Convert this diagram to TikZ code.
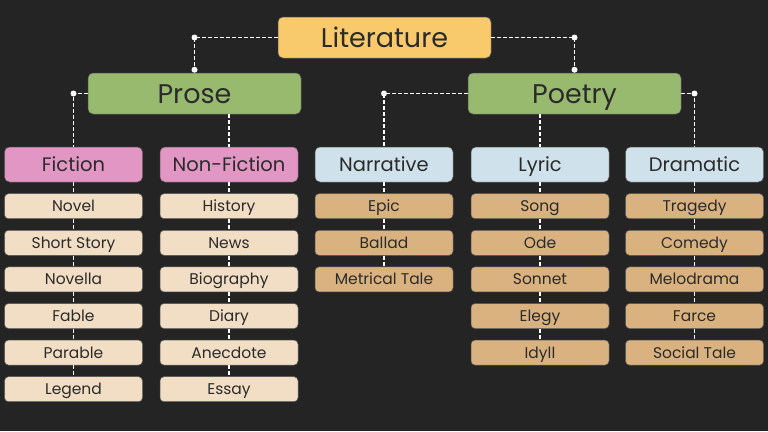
\documentclass[tikz,border=0pt]{standalone}
\usepackage{fontspec}
\setmainfont{Poppins}
\usetikzlibrary{positioning}

\definecolor{board}{HTML}{242424}
\definecolor{ink}{HTML}{2B2B2B}
\definecolor{gold}{HTML}{F9CA6B}
\definecolor{moss}{HTML}{98BA6F}
\definecolor{rose}{HTML}{E296C4}
\definecolor{sky}{HTML}{CFE1EB}
\definecolor{cream}{HTML}{F2DEC4}
\definecolor{tan}{HTML}{D9B27F}

\begin{document}
\begin{tikzpicture}[x=1pt, y=-1pt,
		box/.style={rounded corners=5pt, draw=black!65, line width=0.5pt, text=ink, inner sep=0pt, text depth=0pt},
		root/.style={box, fill=gold, minimum width=213pt, minimum height=41pt, text height=19pt,
			font=\fontsize{27}{27}\selectfont},
		genre/.style={box, fill=moss, minimum width=213pt, minimum height=41pt, text height=19pt,
			font=\fontsize{27}{27}\selectfont},
		kind/.style={box, minimum width=138pt, minimum height=35pt, text height=13.7pt,
			font=\fontsize{19.5}{19.5}\selectfont},
		item/.style={box, rounded corners=4pt, minimum width=138pt, minimum height=25pt, text height=10.9pt,
			font=\fontsize{15.5}{15.5}\selectfont},
		link/.style={white, dash pattern=on 4pt off 2pt, line width=1.3pt},
		dot/.style={white}]
	% chalkboard
	\fill[board] (0,0) rectangle (768,431);

	% top levels
	\node[root] (lit) at (384.5,37.5) {Literature};
	\node[genre] (prose) at (194.5,93.5) {Prose};
	\node[genre] (poetry) at (574.5,93.5) {Poetry};

	% kinds
	\node[kind, fill=rose] (fic) at (73.5,164.5) {Fiction};
	\node[kind, fill=rose] (non) at (229,164.5) {Non-Fiction};
	\node[kind, fill=sky] (nar) at (384,164.5) {Narrative};
	\node[kind, fill=sky] (lyr) at (540,164.5) {Lyric};
	\node[kind, fill=sky] (dra) at (694.5,164.5) {Dramatic};

	% items below each kind
	\foreach \t [count=\i] in {Novel, Short Story, Novella, Fable, Parable, Legend} {
		\node[item, fill=cream] (fic\i) at (73.5,169.6+\i*36.6) {\t};
	};
	\foreach \t [count=\i] in {History, News, Biography, Diary, Anecdote, Essay} {
		\node[item, fill=cream] (non\i) at (229,169.6+\i*36.6) {\t};
	};
	\foreach \t [count=\i] in {Epic, Ballad, Metrical Tale} {
		\node[item, fill=tan] (nar\i) at (384,169.6+\i*36.6) {\t};
	};
	\foreach \t [count=\i] in {Song, Ode, Sonnet, Elegy, Idyll} {
		\node[item, fill=tan] (lyr\i) at (540,169.6+\i*36.6) {\t};
	};
	\foreach \t [count=\i] in {Tragedy, Comedy, Melodrama, Farce, Social Tale} {
		\node[item, fill=tan] (dra\i) at (694.5,169.6+\i*36.6) {\t};
	};

	% connectors
	\draw[link] (lit.west) -| ([yshift=3pt]prose.north);
	\draw[link] (lit.east) -| ([yshift=3pt]poetry.north);
	\fill[dot] (lit.west -| prose.north) circle (3pt) ([yshift=3pt]prose.north) circle (3pt);
	\fill[dot] (lit.east -| poetry.north) circle (3pt) ([yshift=3pt]poetry.north) circle (3pt);

	\draw[link] (prose.west) -| (fic.north);
	\fill[dot] (prose.west -| fic.north) circle (3pt);
	\draw[link] (prose.south -| non.north) -- (non.north);

	\draw[link] (poetry.west) -| (nar.north);
	\fill[dot] (poetry.west -| nar.north) circle (3pt);
	\draw[link] (poetry.south -| lyr.north) -- (lyr.north);
	\draw[link] (poetry.east) -| (dra.north);
	\fill[dot] (poetry.east -| dra.north) circle (3pt);

	\foreach \k/\n in {fic/6, non/6, nar/3, lyr/5, dra/5} {
		\draw[link] (\k.south) -- (\k1.north);
		\foreach \i [remember=\i as \j (initially 1)] in {2,...,\n} {
			\draw[link] (\k\j.south) -- (\k\i.north);
		};
	};
\end{tikzpicture}
\end{document}
